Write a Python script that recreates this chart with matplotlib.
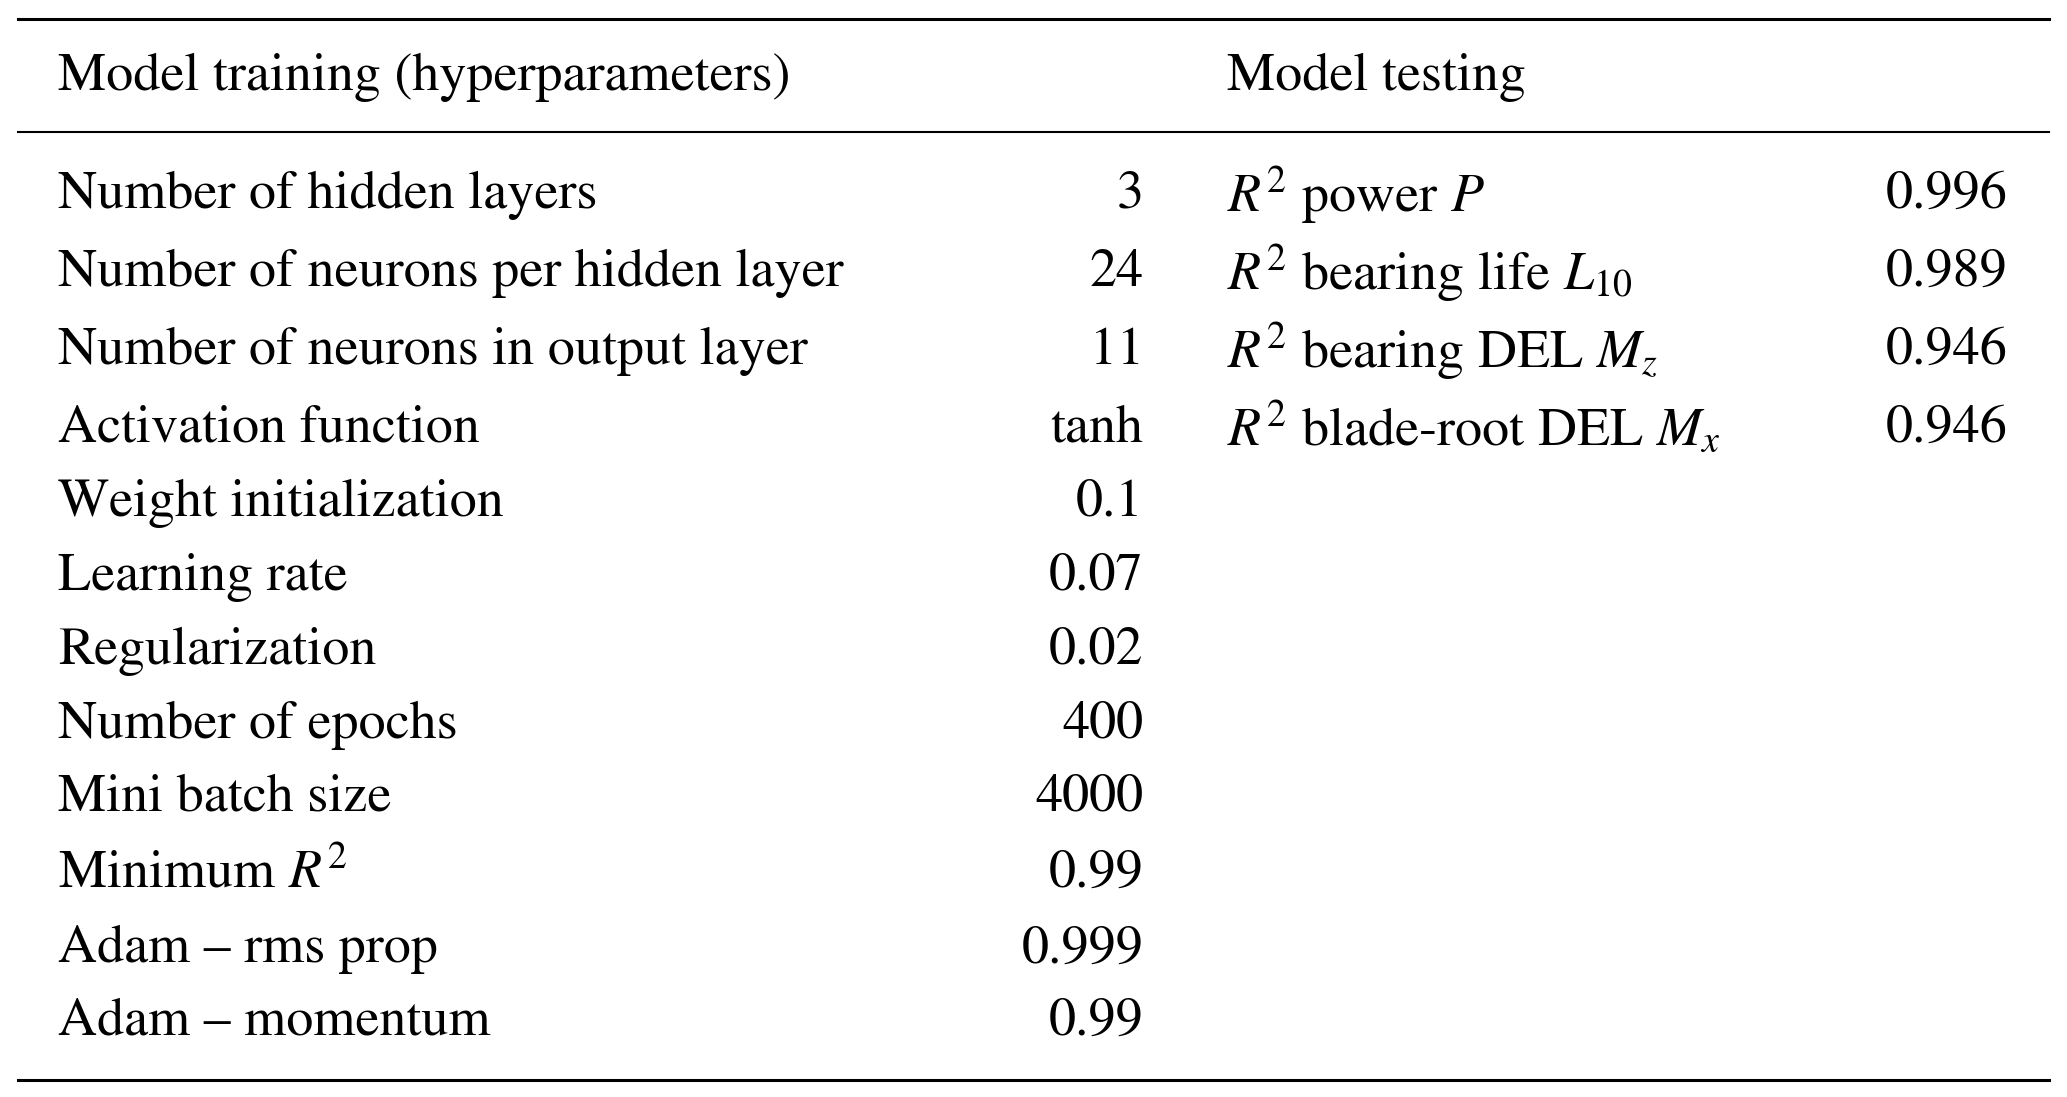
import matplotlib
matplotlib.use("Agg")
import matplotlib.pyplot as plt

plt.rcParams['font.family'] = ['STIXGeneral', 'Liberation Serif', 'DejaVu Serif']
plt.rcParams['mathtext.fontset'] = 'stix'

headers = ["Model training (hyperparameters)", "Model testing"]
train_labels = ["Number of hidden layers", "Number of neurons per hidden layer",
                "Number of neurons in output layer", "Activation function",
                "Weight initialization", "Learning rate", "Regularization",
                "Number of epochs", "Mini batch size", "Minimum $R^2$",
                "Adam – rms prop", "Adam – momentum"]
train_values = ["3", "24", "11", "tanh", "0.1", "0.07", "0.02", "400", "4000",
                "0.99", "0.999", "0.99"]
test_labels = ["$R^2$ power $P$", "$R^2$ bearing life $L_{10}$",
               "$R^2$ bearing DEL $M_z$", "$R^2$ blade-root DEL $M_x$"]
test_values = ["0.996", "0.989", "0.946", "0.946"]

W, H = 1567, 830
fig = plt.figure(figsize=(20.67, 10.97), dpi=100)
fig.patch.set_facecolor('white')

def X(x): return x / W
def Y(y): return 1 - y / H

fs = 39
for y, lw in [(14, 2.2), (100, 1.5), (817, 2.2)]:
    fig.add_artist(plt.Line2D([X(14), X(1553)], [Y(y), Y(y)], color='black', lw=lw))

fig.text(X(44), Y(54), headers[0], fontsize=fs, va='center_baseline', ha='left')
fig.text(X(930), Y(54), headers[1], fontsize=fs, va='center_baseline', ha='left')

rows_y = [145, 204, 263, 322, 378, 434, 490, 546, 601, 659, 716, 771]
for i, (lab, val) in enumerate(zip(train_labels, train_values)):
    fig.text(X(44), Y(rows_y[i] - 2), lab, fontsize=fs, va='center_baseline', ha='left')
    fig.text(X(867), Y(rows_y[i] - 2), val, fontsize=fs, va='center_baseline', ha='right')
for i, (lab, val) in enumerate(zip(test_labels, test_values)):
    fig.text(X(930), Y(rows_y[i] - 2), lab, fontsize=fs, va='center_baseline', ha='left')
    fig.text(X(1522), Y(rows_y[i] - 2), val, fontsize=fs, va='center_baseline', ha='right')

fig.savefig("out.png", dpi=100, facecolor='white')
